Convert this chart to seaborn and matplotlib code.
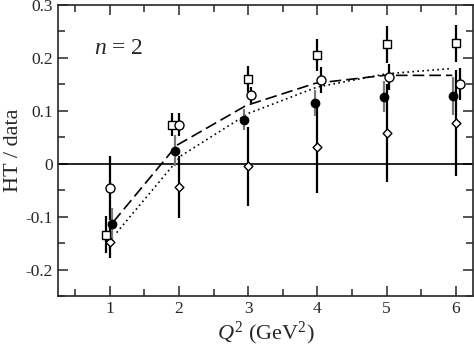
import matplotlib
matplotlib.use("Agg")
import matplotlib.pyplot as plt
import seaborn as sns
from matplotlib.ticker import MultipleLocator

# Q^2 positions (slightly shifted per data set, as in the original)
q2_square = [0.95, 1.9, 3.0, 4.0, 5.0, 6.0]
q2_open = [1.0, 2.0, 3.04, 4.06, 5.04, 6.06]
q2_filled = [1.04, 1.94, 2.94, 3.96, 4.96, 5.96]
q2_diamond = [1.0, 2.0, 3.0, 4.0, 5.0, 6.0]

# HT / data values and errors
ht_square = [-0.134, 0.074, 0.160, 0.206, 0.226, 0.228]
err_square = [0.035, 0.022, 0.025, 0.03, 0.035, 0.035]
ht_open = [-0.046, 0.074, 0.130, 0.158, 0.164, 0.151]
err_open = [0.06, 0.022, 0.015, 0.025, 0.025, 0.03]
ht_filled = [-0.113, 0.025, 0.083, 0.115, 0.127, 0.128]
err_filled = [0.03, 0.03, 0.02, 0.025, 0.03, 0.035]
ht_diamond = [-0.147, -0.044, -0.005, 0.032, 0.058, 0.077]
err_diamond = [0.03, 0.058, 0.075, 0.087, 0.093, 0.1]

# model curves
q2_dash = [1.05, 1.97, 2.97, 3.97, 4.97, 5.95]
ht_dash = [-0.11, 0.035, 0.11, 0.152, 0.167, 0.167]
q2_dot = [1.1, 2.03, 3.0, 4.0, 5.0, 5.95]
ht_dot = [-0.13, 0.015, 0.095, 0.145, 0.17, 0.18]

sns.set_style("ticks")
plt.rcParams["font.family"] = ["Liberation Serif", "DejaVu Serif"]
plt.rcParams["mathtext.fontset"] = "custom"
plt.rcParams["mathtext.it"] = "Liberation Serif:italic"
plt.rcParams["mathtext.rm"] = "Liberation Serif"

fig = plt.figure(figsize=(4.74, 3.53), dpi=100)
ax = fig.add_axes([0.122, 0.161, 0.876, 0.825])

ax.axhline(0, color="black", lw=1.2, zorder=1)

# curves
sns.lineplot(x=q2_dash, y=ht_dash, ax=ax, color="black", lw=1.2,
             linestyle=(0, (7, 3)), sort=False, zorder=2)
sns.lineplot(x=q2_dot, y=ht_dot, ax=ax, color="black", lw=1.2,
             linestyle=(0, (1, 2)), sort=False, zorder=2)

# error bars
ax.errorbar(q2_diamond, ht_diamond, yerr=err_diamond, fmt="none", ecolor="black", elinewidth=1.6, zorder=3)
ax.errorbar(q2_square, ht_square, yerr=err_square, fmt="none", ecolor="black", elinewidth=1.6, zorder=3)
ax.errorbar(q2_open, ht_open, yerr=err_open, fmt="none", ecolor="black", elinewidth=1.6, zorder=3)
ax.errorbar(q2_filled, ht_filled, yerr=err_filled, fmt="none", ecolor="#777777", elinewidth=1.6, zorder=3)

# markers
sns.scatterplot(x=q2_diamond, y=ht_diamond, ax=ax, marker="D", s=20, facecolor="white",
                edgecolor="black", linewidth=1.0, zorder=4)
sns.scatterplot(x=q2_square, y=ht_square, ax=ax, marker="s", s=28, facecolor="white",
                edgecolor="black", linewidth=1.0, zorder=4)
sns.scatterplot(x=q2_open, y=ht_open, ax=ax, marker="o", s=42, facecolor="white",
                edgecolor="black", linewidth=1.0, zorder=4)
sns.scatterplot(x=q2_filled, y=ht_filled, ax=ax, marker="o", s=36, facecolor="black",
                edgecolor="black", linewidth=1.0, zorder=5)

ax.set_xlim(0.25, 6.25)
ax.set_ylim(-0.25, 0.3)
ax.xaxis.set_minor_locator(MultipleLocator(0.5))
ax.yaxis.set_minor_locator(MultipleLocator(0.05))
ax.set_yticks([-0.2, -0.1, 0, 0.1, 0.2, 0.3])
ax.set_yticklabels(["-0.2", "-0.1", "0", "0.1", "0.2", "0.3"])
ax.set_xticks([1, 2, 3, 4, 5, 6])
ax.set_xticklabels(["1", "2", "3", "4", "5", "6"])

ax.tick_params(which="both", direction="in", top=True, right=True, width=1.1, labelsize=12.5)
ax.tick_params(which="major", length=7)
ax.tick_params(which="minor", length=5)
for sp in ax.spines.values():
    sp.set_linewidth(1.2)
    sp.set_visible(True)

ax.set_xlabel(r"$Q^2$ (GeV$^2$)", fontsize=16, labelpad=2)
ax.set_ylabel("HT / data", fontsize=16, labelpad=2)

ax.text(0.087, 0.83, r"$n$ = 2", transform=ax.transAxes, fontsize=17)

fig.savefig("out.png", dpi=100)
